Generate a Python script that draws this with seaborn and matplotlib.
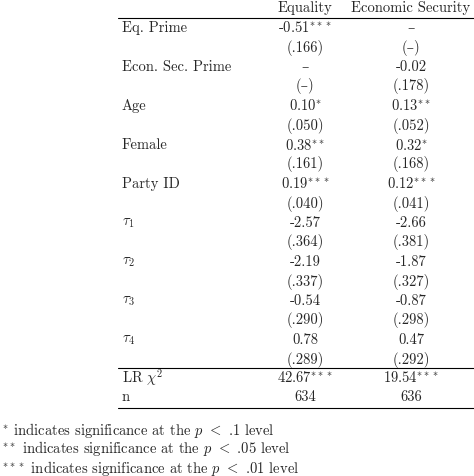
import matplotlib
matplotlib.use("Agg")
import matplotlib.pyplot as plt
import seaborn as sns

sns.set_theme(style="white")
plt.rcParams['font.family'] = ['cmr10', 'DejaVu Serif']
plt.rcParams['mathtext.fontset'] = 'cm'
plt.rcParams['axes.unicode_minus'] = False

columns = ["Equality", "Economic Security"]
row_labels = ["Eq. Prime", "", "Econ. Sec. Prime", "", "Age", "", "Female", "", "Party ID", "",
              r"$\tau_1$", "", r"$\tau_2$", "", r"$\tau_3$", "", r"$\tau_4$", ""]
equality = ["-0.51$^{***}$", "(.166)", "–", "(–)", "0.10$^{*}$", "(.050)", "0.38$^{**}$", "(.161)",
            "0.19$^{***}$", "(.040)", "-2.57", "(.364)", "-2.19", "(.337)", "-0.54", "(.290)", "0.78", "(.289)"]
econ = ["–", "(–)", "-0.02", "(.178)", "0.13$^{**}$", "(.052)", "0.32$^{*}$", "(.168)",
        "0.12$^{***}$", "(.041)", "-2.66", "(.381)", "-1.87", "(.327)", "-0.87", "(.298)", "0.47", "(.292)"]
stat_labels = [r"LR $\chi^2$", "n"]
stat_eq = ["42.67$^{***}$", "634"]
stat_ec = ["19.54$^{***}$", "636"]
notes = ["$^{*}$ indicates significance at the $p$ $<$ .1 level",
         "$^{**}$ indicates significance at the $p$ $<$ .05 level",
         "$^{***}$ indicates significance at the $p$ $<$ .01 level"]

W, H = 474, 476
fig = plt.figure(figsize=(4.74, 4.76), dpi=100)
ax = fig.add_axes([0, 0, 1, 1])
ax.set_xlim(0, W); ax.set_ylim(H, 0); ax.axis("off")

fs = 10.5
xl, xc1, xc2 = 122, 305, 411
ax.text(xc1, 8, columns[0], ha="center", va="center", fontsize=fs)
ax.text(xc2, 8, columns[1], ha="center", va="center", fontsize=fs)
ax.plot([118, 474], [18, 18], color="black", lw=0.8)
y0, dy = 28, 19.5
for i, (l, a, b) in enumerate(zip(row_labels, equality, econ)):
    y = y0 + i * dy
    ax.text(xl, y, l, ha="left", va="center", fontsize=fs)
    ax.text(xc1, y, a, ha="center", va="center", fontsize=fs)
    ax.text(xc2, y, b, ha="center", va="center", fontsize=fs)
ax.plot([118, 474], [368, 368], color="black", lw=0.8)
for i, (l, a, b) in enumerate(zip(stat_labels, stat_eq, stat_ec)):
    y = 378 + i * dy
    ax.text(xl, y, l, ha="left", va="center", fontsize=fs)
    ax.text(xc1, y, a, ha="center", va="center", fontsize=fs)
    ax.text(xc2, y, b, ha="center", va="center", fontsize=fs)
ax.plot([118, 474], [408, 408], color="black", lw=0.8)
for i, n in enumerate(notes):
    ax.text(2, 430 + i * 19, n, ha="left", va="center", fontsize=fs)

fig.savefig("out.png", dpi=100)
